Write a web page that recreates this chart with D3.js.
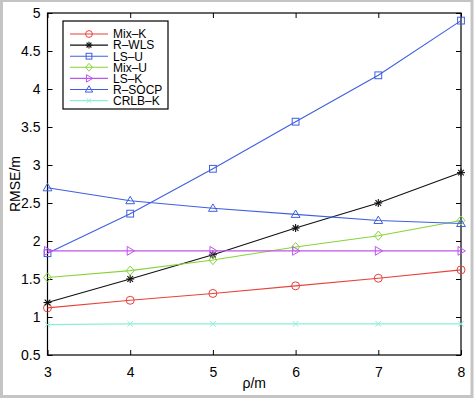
<!DOCTYPE html>
<html>
<head>
<meta charset="utf-8">
<script src="https://cdn.jsdelivr.net/npm/d3@7"></script>
<style>
  body { margin: 0; background: #fff; }
  svg { display: block; font-family: "Liberation Sans", Arial, sans-serif; }
</style>
</head>
<body>
<svg id="chart" width="474" height="399"></svg>
<script>
// x values (rho / m)
const rho = [3, 4, 5, 6, 7, 8];

// RMSE per method
const mixK   = [1.12, 1.22, 1.31, 1.41, 1.51, 1.62];
const rWLS   = [1.19, 1.50, 1.82, 2.17, 2.50, 2.90];
const lsU    = [1.84, 2.36, 2.95, 3.57, 4.18, 4.90];
const mixU   = [1.52, 1.61, 1.75, 1.92, 2.07, 2.27];
const lsK    = [1.87, 1.87, 1.87, 1.87, 1.87, 1.87];
const rSOCP  = [2.70, 2.53, 2.43, 2.35, 2.27, 2.23];
const crlbK  = [0.90, 0.91, 0.91, 0.91, 0.91, 0.91];

const yTicks = [0.5, 1, 1.5, 2, 2.5, 3, 3.5, 4, 4.5, 5];

const series = [
  { name: "Mix\u2013K",  values: mixK,  color: "#e8423c", marker: "circle" },
  { name: "R\u2013WLS",  values: rWLS,  color: "#111111", marker: "star" },
  { name: "LS\u2013U",   values: lsU,   color: "#3f5fe0", marker: "square" },
  { name: "Mix\u2013U",  values: mixU,  color: "#86d43a", marker: "diamond" },
  { name: "LS\u2013K",   values: lsK,   color: "#bf55ec", marker: "triangleRight" },
  { name: "R\u2013SOCP", values: rSOCP, color: "#3f5fe0", marker: "triangleUp" },
  { name: "CRLB\u2013K", values: crlbK, color: "#8ceed6", marker: "cross" }
];

const svg = d3.select("#chart");
const W = 474, H = 399;
const m = { left: 47.5, right: 13, top: 13, bottom: 44 };

// outer frame like the screenshot
svg.append("rect")
  .attr("x", 1.5).attr("y", 0.5)
  .attr("width", W - 3.5).attr("height", H - 3)
  .attr("fill", "none").attr("stroke", "#c4c4c4").attr("stroke-width", 3);

const x = d3.scaleLinear().domain([3, 8]).range([m.left, W - m.right]);
const y = d3.scaleLinear().domain([0.5, 5]).range([H - m.bottom, m.top]);

const tickLen = 5;

// axes with inward ticks
svg.append("g")
  .attr("transform", `translate(0,${y(0.5)})`)
  .call(d3.axisBottom(x).tickValues(rho).tickSizeInner(-tickLen).tickSizeOuter(0).tickPadding(12).tickFormat(d3.format("d")))
  .call(g => g.select(".domain").remove());

svg.append("g")
  .attr("transform", `translate(${x(3)},0)`)
  .call(d3.axisLeft(y).tickValues(yTicks).tickSizeInner(-tickLen).tickSizeOuter(0).tickPadding(7).tickFormat(d3.format("")))
  .call(g => g.select(".domain").remove());

// top and right ticks
svg.append("g")
  .attr("transform", `translate(0,${y(5)})`)
  .call(d3.axisTop(x).tickValues(rho).tickSizeInner(-tickLen).tickSizeOuter(0).tickFormat(""))
  .call(g => g.select(".domain").remove());

svg.append("g")
  .attr("transform", `translate(${x(8)},0)`)
  .call(d3.axisRight(y).tickValues(yTicks).tickSizeInner(-tickLen).tickSizeOuter(0).tickFormat(""))
  .call(g => g.select(".domain").remove());

svg.selectAll(".tick text")
  .attr("font-size", 14).attr("fill", "#000")
  .attr("font-family", "Liberation Sans, Arial, sans-serif");
svg.selectAll(".tick line").attr("stroke", "#000");

// plot box
svg.append("rect")
  .attr("x", x(3)).attr("y", y(5))
  .attr("width", x(8) - x(3)).attr("height", y(0.5) - y(5))
  .attr("fill", "none").attr("stroke", "#000").attr("stroke-width", 1.2);

// marker drawing, k scales the marker size
function drawMarker(g, type, cx, cy, color, k) {
  const s = 4 * k;
  if (type === "circle") {
    g.append("circle").attr("cx", cx).attr("cy", cy).attr("r", s)
      .attr("fill", "none").attr("stroke", color);
  } else if (type === "square") {
    g.append("rect").attr("x", cx - s * 0.85).attr("y", cy - s * 0.85)
      .attr("width", s * 1.7).attr("height", s * 1.7)
      .attr("fill", "none").attr("stroke", color);
  } else if (type === "diamond") {
    g.append("path").attr("d", `M${cx},${cy - s * 1.15}L${cx + s},${cy}L${cx},${cy + s * 1.15}L${cx - s},${cy}Z`)
      .attr("fill", "none").attr("stroke", color);
  } else if (type === "triangleUp") {
    g.append("path").attr("d", `M${cx},${cy - s * 1.1}L${cx + s * 1.1},${cy + s * 0.75}L${cx - s * 1.1},${cy + s * 0.75}Z`)
      .attr("fill", "none").attr("stroke", color);
  } else if (type === "triangleRight") {
    g.append("path").attr("d", `M${cx + s * 1.1},${cy}L${cx - s * 0.75},${cy - s * 1.1}L${cx - s * 0.75},${cy + s * 1.1}Z`)
      .attr("fill", "none").attr("stroke", color);
  } else if (type === "star") {
    const r = s;
    [0, 45, 90, 135].forEach(a => {
      const rad = a * Math.PI / 180;
      g.append("line")
        .attr("x1", cx - r * Math.cos(rad)).attr("y1", cy - r * Math.sin(rad))
        .attr("x2", cx + r * Math.cos(rad)).attr("y2", cy + r * Math.sin(rad))
        .attr("stroke", color).attr("stroke-width", 1.1);
    });
  } else if (type === "cross") {
    const r = s * 0.7;
    g.append("path").attr("d", `M${cx - r},${cy - r}L${cx + r},${cy + r}M${cx - r},${cy + r}L${cx + r},${cy - r}`)
      .attr("stroke", color).attr("fill", "none");
  }
}

const line = d3.line().x((d, i) => x(rho[i])).y(d => y(d));

series.forEach(s => {
  const g = svg.append("g");
  g.append("path").datum(s.values)
    .attr("d", line).attr("fill", "none")
    .attr("stroke", s.color).attr("stroke-width", 1.1);
  s.values.forEach((v, i) => drawMarker(g, s.marker, x(rho[i]), y(v), s.color, 1));
});

// legend
const lg = svg.append("g");
const lx = 63, ly = 21, lw = 105, lh = 88;
lg.append("rect").attr("x", lx).attr("y", ly).attr("width", lw).attr("height", lh)
  .attr("fill", "#fff").attr("stroke", "#000").attr("stroke-width", 1.2);
series.forEach((s, i) => {
  const cy = ly + 13 + i * 11.1;
  lg.append("line").attr("x1", lx + 7).attr("x2", lx + 45).attr("y1", cy).attr("y2", cy)
    .attr("stroke", s.color).attr("stroke-width", 1.1);
  drawMarker(lg, s.marker, lx + 26, cy, s.color, 0.85);
  lg.append("text").attr("x", lx + 50).attr("y", cy).attr("dy", "0.36em")
    .attr("font-size", 12).text(s.name);
});

// axis labels
svg.append("text").attr("x", x(5.5)).attr("y", 388).attr("text-anchor", "middle")
  .attr("font-size", 14).text("ρ/m");
svg.append("text").attr("transform", `translate(20,${y(2.75)}) rotate(-90)`)
  .attr("text-anchor", "middle").attr("font-size", 14).text("RMSE/m");
</script>
</body>
</html>
